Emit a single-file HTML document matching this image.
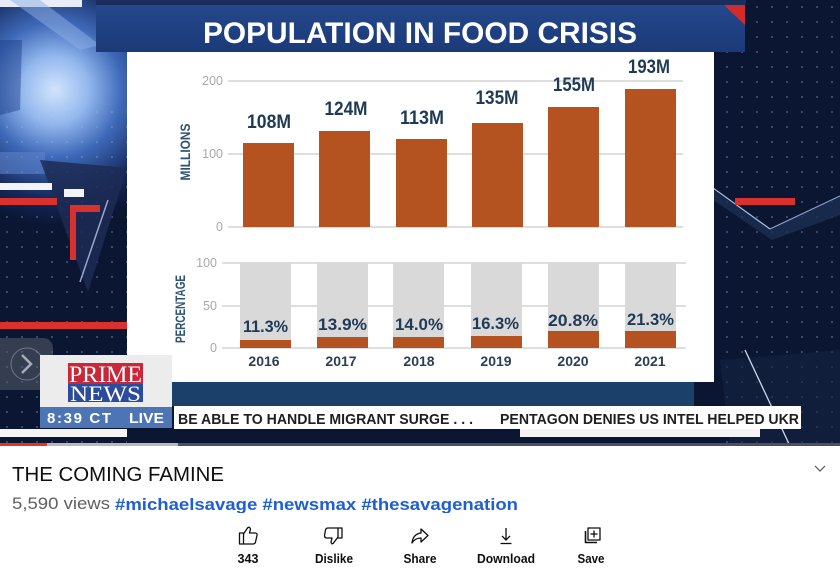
<!DOCTYPE html>
<html><head><meta charset="utf-8"><style>
html,body{margin:0;padding:0;background:#fff;}
svg{display:block;}
text{font-family:"Liberation Sans",sans-serif;}
</style></head><body>
<svg width="840" height="575" viewBox="0 0 840 575" xmlns="http://www.w3.org/2000/svg">
<defs>
<pattern id="dots" width="15" height="15" patternUnits="userSpaceOnUse"><circle cx="7" cy="7" r="0.9" fill="#9db0d6" opacity="0.55"/></pattern>
<radialGradient id="glow" cx="55" cy="90" r="135" gradientUnits="userSpaceOnUse">
<stop offset="0" stop-color="#d2e4fc"/><stop offset="0.25" stop-color="#93b8ee"/><stop offset="0.5" stop-color="#3e69b8"/><stop offset="0.8" stop-color="#15295e"/><stop offset="1" stop-color="#0b1633"/></radialGradient>
<linearGradient id="banner" x1="0" y1="0" x2="0" y2="1"><stop offset="0" stop-color="#24488c"/><stop offset="1" stop-color="#1b3a78"/></linearGradient>
<clipPath id="tagclip"><rect x="0" y="490" width="840" height="23"/></clipPath>
</defs>

<!-- video background -->
<rect x="0" y="0" width="840" height="446" fill="#0b1633"/>
<rect x="0" y="0" width="210" height="330" fill="url(#glow)"/>
<rect x="0" y="110" width="127" height="336" fill="url(#dots)"/>
<rect x="713" y="0" width="127" height="446" fill="url(#dots)"/>
<rect x="0" y="0" width="82" height="7" fill="#e6ebf5"/>
<polygon points="10,0 40,0 100,45 80,50" fill="#8fb0e6" opacity="0.5"/>
<polygon points="0,40 22,40 20,110 0,115" fill="#1c3c85" opacity="0.45"/>
<rect x="0" y="152" width="45" height="22" fill="#5b82c9" opacity="0.6"/>
<polygon points="40,160 127,168 88,292" fill="#1d2c55" opacity="0.85"/>
<line x1="108" y1="200" x2="80" y2="282" stroke="#b7c7ea" stroke-width="1.5" opacity="0.8"/>
<rect x="0" y="183" width="52" height="7" fill="#f2f4f8"/>
<rect x="64" y="189" width="20" height="8" fill="#f2f4f8"/>
<rect x="0" y="198" width="57" height="7" fill="#d9322e"/>
<path d="M70 205 L100 205 L100 212 L76 212 L76 260 L70 260 Z" fill="#d9322e"/>
<rect x="0" y="322" width="127" height="7" fill="#d9322e"/>
<!-- right bg -->
<polygon points="713,190 770,228 840,195 840,215 772,240 713,200" fill="#1d2e52" opacity="0.8"/>
<line x1="713" y1="188" x2="770" y2="229" stroke="#aebdd9" stroke-width="1.2"/>
<line x1="770" y1="229" x2="840" y2="196" stroke="#8fa4cc" stroke-width="1"/>
<rect x="735" y="198" width="60" height="7" fill="#d9322e"/>
<polygon points="720,360 840,350 840,446 730,446" fill="#142443" opacity="0.6"/>
<line x1="745" y1="350" x2="790" y2="446" stroke="#d0d8ea" stroke-width="1.3"/>
<rect x="96" y="0" width="650" height="5" fill="#1a2d5c"/>

<!-- banner -->
<rect x="96" y="5" width="649" height="47" fill="url(#banner)"/>
<polygon points="724,5 745,5 745,25" fill="#d12b2b"/>
<text x="203" y="43" font-size="30" font-weight="bold" fill="#ffffff" textLength="434" lengthAdjust="spacingAndGlyphs">POPULATION IN FOOD CRISIS</text>

<!-- chart panel -->
<rect x="127" y="52" width="587" height="330" fill="#ffffff"/>
<g stroke="#d4d4d4" stroke-width="1.5">
<line x1="228" y1="81" x2="683" y2="81"/>
<line x1="228" y1="154" x2="683" y2="154"/>
<line x1="228" y1="227" x2="683" y2="227"/>
</g>
<g font-size="12.5" fill="#a8a8a8" text-anchor="end">
<text x="223" y="85">200</text><text x="223" y="158">100</text><text x="223" y="231">0</text>
</g>
<text transform="translate(190,152) rotate(-90)" font-size="14" font-weight="bold" fill="#2e5272" text-anchor="middle" textLength="57" lengthAdjust="spacingAndGlyphs">MILLIONS</text>
<g fill="#b4531f">
<rect x="243" y="143" width="51" height="84"/>
<rect x="319" y="131" width="51" height="96"/>
<rect x="396" y="139" width="51" height="88"/>
<rect x="472" y="123" width="51" height="104"/>
<rect x="548" y="107" width="51" height="120"/>
<rect x="625" y="89" width="51" height="138"/>
</g>
<g font-size="19" font-weight="bold" fill="#1e3a55" text-anchor="middle">
<text x="269" y="128" textLength="44" lengthAdjust="spacingAndGlyphs">108M</text>
<text x="346" y="115" textLength="43" lengthAdjust="spacingAndGlyphs">124M</text>
<text x="422" y="124" textLength="44" lengthAdjust="spacingAndGlyphs">113M</text>
<text x="497" y="104" textLength="43" lengthAdjust="spacingAndGlyphs">135M</text>
<text x="574" y="91" textLength="42" lengthAdjust="spacingAndGlyphs">155M</text>
<text x="649" y="73" textLength="42" lengthAdjust="spacingAndGlyphs">193M</text>
</g>

<!-- bottom chart -->
<g stroke="#d4d4d4" stroke-width="1.5">
<line x1="222" y1="263" x2="686" y2="263"/>
<line x1="222" y1="306" x2="686" y2="306"/>
<line x1="222" y1="348" x2="686" y2="348"/>
</g>
<g font-size="12.5" fill="#a8a8a8" text-anchor="end">
<text x="217" y="267">100</text><text x="217" y="310">50</text><text x="217" y="352">0</text>
</g>
<text transform="translate(185,309) rotate(-90)" font-size="14" font-weight="bold" fill="#2e5272" text-anchor="middle" textLength="68" lengthAdjust="spacingAndGlyphs">PERCENTAGE</text>
<g fill="#d9d9d9">
<rect x="240" y="263" width="51" height="85"/>
<rect x="317" y="263" width="51" height="85"/>
<rect x="393" y="263" width="51" height="85"/>
<rect x="471" y="263" width="51" height="85"/>
<rect x="548" y="263" width="51" height="85"/>
<rect x="625" y="263" width="51" height="85"/>
</g>
<g fill="#b4531f">
<rect x="240" y="340" width="51" height="8"/>
<rect x="317" y="337" width="51" height="11"/>
<rect x="393" y="337" width="51" height="11"/>
<rect x="471" y="336" width="51" height="12"/>
<rect x="548" y="331" width="51" height="17"/>
<rect x="625" y="331" width="51" height="17"/>
</g>
<g font-size="17" font-weight="bold" fill="#1e3a55" text-anchor="middle">
<text x="265.5" y="332" textLength="45" lengthAdjust="spacingAndGlyphs">11.3%</text>
<text x="342.5" y="330" textLength="49" lengthAdjust="spacingAndGlyphs">13.9%</text>
<text x="419" y="330" textLength="48" lengthAdjust="spacingAndGlyphs">14.0%</text>
<text x="495.5" y="329" textLength="47" lengthAdjust="spacingAndGlyphs">16.3%</text>
<text x="573" y="326" textLength="50" lengthAdjust="spacingAndGlyphs">20.8%</text>
<text x="650.5" y="325" textLength="47" lengthAdjust="spacingAndGlyphs">21.3%</text>
</g>
<g font-size="14" font-weight="bold" fill="#2a3f55" text-anchor="middle">
<text x="264" y="366">2016</text>
<text x="341" y="366">2017</text>
<text x="419" y="366">2018</text>
<text x="496" y="366">2019</text>
<text x="573" y="366">2020</text>
<text x="650" y="366">2021</text>
</g>

<!-- lower bands -->
<rect x="172" y="382" width="522" height="24" fill="#1b416a"/>
<rect x="174" y="406" width="627" height="23" fill="#ffffff"/>
<text x="178" y="424" font-size="15" font-weight="bold" fill="#1f1f1f" textLength="295" lengthAdjust="spacingAndGlyphs">BE ABLE TO HANDLE MIGRANT SURGE . . .</text>
<text x="500" y="424" font-size="15" font-weight="bold" fill="#1f1f1f" textLength="299" lengthAdjust="spacingAndGlyphs">PENTAGON DENIES US INTEL HELPED UKR</text>
<rect x="0" y="429" width="127" height="8" fill="#f4f4f4"/>
<rect x="520" y="429" width="240" height="8" fill="#f4f4f4"/>

<!-- player control -->
<rect x="-12" y="338" width="65" height="52" rx="10" fill="#5a5f6a" opacity="0.55"/>
<circle cx="27" cy="364" r="16" fill="none" stroke="#9aa0aa" stroke-width="1" opacity="0.6"/>
<polyline points="22,355 31,364 22,373" fill="none" stroke="#a8acb4" stroke-width="2.5"/>

<!-- logo box -->
<rect x="40" y="355" width="132" height="52" fill="#ececec"/>
<rect x="68" y="363" width="75" height="21" fill="#c8283a"/>
<rect x="68" y="384" width="75" height="18" fill="#2b4b9b"/>
<text x="69" y="382" font-size="23" fill="#ffffff" textLength="73" lengthAdjust="spacingAndGlyphs" style="font-family:'Liberation Serif',serif">PRIME</text>
<text x="70" y="401" font-size="22" fill="#ffffff" textLength="71" lengthAdjust="spacingAndGlyphs" style="font-family:'Liberation Serif',serif">NEWS</text>
<rect x="40" y="407" width="132" height="21" fill="#4d74b4"/>
<text x="47" y="423" font-size="15" font-weight="bold" fill="#ffffff" textLength="64" lengthAdjust="spacing">8:39 CT</text>
<text x="129" y="423" font-size="15" font-weight="bold" fill="#ffffff" textLength="35" lengthAdjust="spacingAndGlyphs">LIVE</text>

<!-- progress bar -->
<rect x="0" y="443" width="840" height="3" fill="#4a5060"/>
<rect x="47" y="443" width="131" height="3" fill="#b8b8b8"/>
<rect x="0" y="443" width="47" height="3" fill="#e5332a"/>

<!-- youtube info -->
<rect x="0" y="446" width="840" height="129" fill="#ffffff"/>
<text x="12" y="481" font-size="20" fill="#0f0f0f" textLength="212" lengthAdjust="spacingAndGlyphs">THE COMING FAMINE</text>
<polyline points="815,466 820,471 825,466" fill="none" stroke="#555" stroke-width="1.2"/>
<g clip-path="url(#tagclip)">
<text x="12" y="509" font-size="17" fill="#606060" textLength="98" lengthAdjust="spacingAndGlyphs">5,590 views</text>
<text x="115" y="510" font-size="17" font-weight="bold" fill="#1f5fd6" textLength="403" lengthAdjust="spacingAndGlyphs">#michaelsavage #newsmax #thesavagenation</text>
</g>

<!-- icons -->
<g fill="none" stroke="#0f0f0f" stroke-width="1.3" stroke-linejoin="round">
<rect x="239.5" y="533" width="4" height="11"/>
<path d="M243.5 534 L247.5 528 Q249.5 526 250.5 529 L249.5 533 L255 533 Q257.5 533 257 535.5 L255.5 542 Q255 544 253 544 L243.5 544"/>
<rect x="338" y="528" width="4" height="10"/>
<path d="M338 528 L328 528 Q326 528 325.5 530 L324.5 535.5 Q324.5 538 327 538 L332 538 L331 542 Q331.5 545 333.5 543 L338 537"/>
<path d="M412 543 Q413 534 421 533 L421 529 L428 535.5 L421 542 L421 538 Q415 538 412 543 Z"/>
<line x1="506" y1="528" x2="506" y2="540"/>
<polyline points="502,536 506,540 510,536"/>
<line x1="500.5" y1="543.5" x2="511.5" y2="543.5"/>
<rect x="588" y="528" width="12" height="12"/>
<line x1="594" y1="530.5" x2="594" y2="537.5"/>
<line x1="590.5" y1="534" x2="597.5" y2="534"/>
<polyline points="585.5,531 585.5,542.5 597,542.5" stroke-width="1.6"/>
</g>
<g font-size="13" font-weight="bold" fill="#0f0f0f" text-anchor="middle">
<text x="248" y="563" textLength="21" lengthAdjust="spacingAndGlyphs">343</text>
<text x="334" y="563" textLength="38" lengthAdjust="spacingAndGlyphs">Dislike</text>
<text x="420" y="563" textLength="33" lengthAdjust="spacingAndGlyphs">Share</text>
<text x="506" y="563" textLength="58" lengthAdjust="spacingAndGlyphs">Download</text>
<text x="591" y="563" textLength="27" lengthAdjust="spacingAndGlyphs">Save</text>
</g>
</svg>
</body></html>
